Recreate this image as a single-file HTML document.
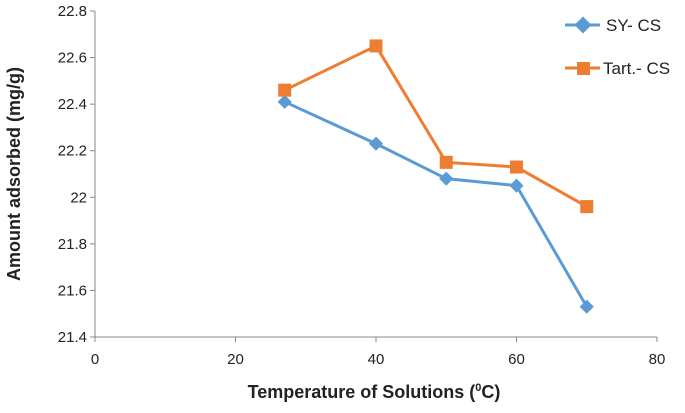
<!DOCTYPE html>
<html><head><meta charset="utf-8"><style>
body{margin:0;background:#fff}
svg text{font-family:"Liberation Sans",sans-serif;fill:#222}
</style></head><body>
<svg width="685" height="408" xmlns="http://www.w3.org/2000/svg">
<g id="axes"></g><g id="series"></g>
<text transform="translate(20,174) rotate(-90)" text-anchor="middle" font-size="18" font-weight="bold">Amount adsorbed (mg/g)</text>
<text x="374" y="398" text-anchor="middle" font-size="18" font-weight="bold">Temperature of Solutions (<tspan font-size="11" dy="-7">0</tspan><tspan dy="7">C)</tspan></text>
<g>
<line x1="565" y1="25" x2="600" y2="25" stroke="#5b9bd5" stroke-width="3"/>
<rect x="577" y="19" width="12" height="12" fill="#5b9bd5" transform="rotate(45 583 25)"/>
<text x="606" y="31" font-size="17">SY- CS</text>
<line x1="565" y1="68" x2="600" y2="68" stroke="#ed7d31" stroke-width="3"/>
<rect x="577" y="62" width="13" height="13" fill="#ed7d31"/>
<text x="603" y="74" font-size="17">Tart.- CS</text>
</g>
</svg>
<script>
const xTicks=[0,20,40,60,80];
const yTicks=[21.4,21.6,21.8,22,22.2,22.4,22.6,22.8];
const yTickLabels=["21.4","21.6","21.8","22","22.2","22.4","22.6","22.8"];
const temps=[27,40,50,60,70];
const syValues=[22.41,22.23,22.08,22.05,21.53];
const tartValues=[22.46,22.65,22.15,22.13,21.96];
const NS="http://www.w3.org/2000/svg";
const X=v=>95+(v-0)/80*562;
const Y=v=>337-(v-21.4)/1.4*326;
function mk(t,a,p){const e=document.createElementNS(NS,t);for(const k in a)e.setAttribute(k,a[k]);p.appendChild(e);return e;}
const ax=document.getElementById('axes');
let e=mk('line',{x1:95,y1:11,x2:95,y2:337,stroke:'#888'},ax);


e=mk('line',{x1:95,y1:337,x2:657,y2:337,stroke:'#888'},ax);


yTicks.forEach((v,i)=>{mk('line',{x1:90,x2:95,y1:Y(v),y2:Y(v),stroke:'#888'},ax);
const t=mk('text',{x:87,y:Y(v)+5,'text-anchor':'end','font-size':'15'},ax);t.textContent=yTickLabels[i];

});
xTicks.forEach(v=>{mk('line',{x1:X(v),x2:X(v),y1:337,y2:342,stroke:'#888'},ax);
const t=mk('text',{x:X(v),y:364,'text-anchor':'middle','font-size':'15'},ax);t.textContent=v;

});
const sg=document.getElementById('series');
function series(vals,color,name,sq){
const g=mk('g',{},sg);


mk('polyline',{points:vals.map((v,i)=>X(temps[i])+','+Y(v)).join(' '),fill:'none',stroke:color,'stroke-width':3},g);
vals.forEach((v,i)=>{const x=X(temps[i]),y=Y(v);let m;
if(sq)m=mk('rect',{x:x-6.5,y:y-6.5,width:13,height:13,fill:color},g);
else m=mk('rect',{x:x-5,y:y-5,width:10,height:10,fill:color,transform:`rotate(45 ${x} ${y})`},g);

});}
series(syValues,'#5b9bd5','series-sy-cs',false);
series(tartValues,'#ed7d31','series-tart-cs',true);
</script>
</body></html>
